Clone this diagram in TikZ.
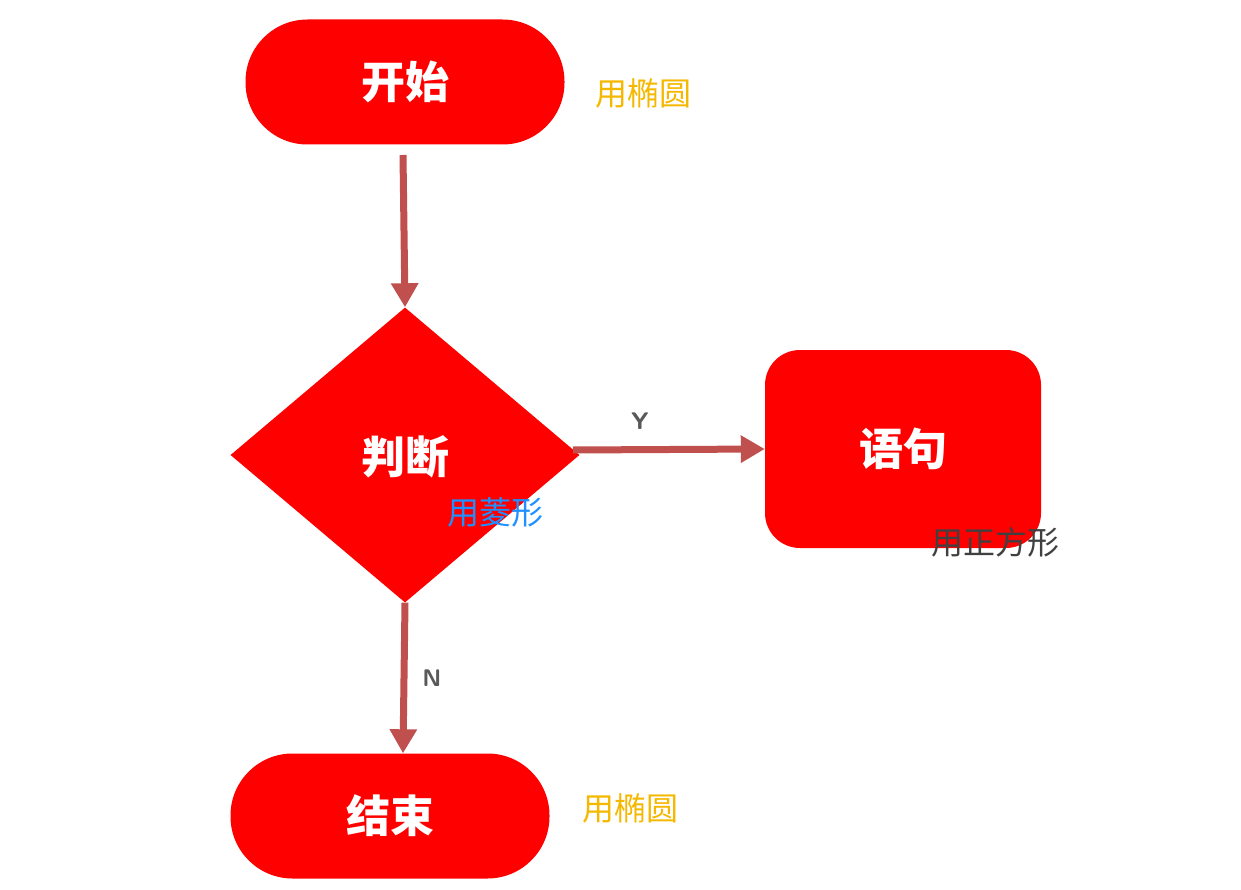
\documentclass[tikz,border=0pt]{standalone}
\usepackage{fontspec}
\setmainfont{Noto Sans CJK SC}
\newfontfamily\cjkb{Noto Sans CJK SC Bold}
\usetikzlibrary{shapes.geometric,arrows.meta}
\definecolor{shape}{HTML}{FF0000}
\definecolor{arr}{HTML}{C0504D}
\definecolor{yel}{HTML}{F5B800}
\definecolor{blu}{HTML}{1E90FF}
\tikzset{
  pill/.style={fill=shape,rounded corners=62pt,minimum width=319pt,minimum height=125pt,inner sep=0,text=white,font=\fontsize{44}{44}\selectfont\bfseries},
  dia/.style={diamond,fill=shape,minimum width=349pt,minimum height=295pt,inner sep=0,text=white,font=\fontsize{44}{44}\selectfont\bfseries},
  boxs/.style={fill=shape,rounded corners=35pt,minimum width=276pt,minimum height=198pt,inner sep=0,text=white,font=\fontsize{44}{44}\selectfont\bfseries},
  note/.style={font=\fontsize{32}{32}\selectfont,inner sep=0},
  conn/.style={draw=arr,line width=7pt,-{Triangle[length=24pt,width=26pt]}},
  yn/.style={text=black!65,font=\sffamily\bfseries\fontsize{24}{24}\selectfont,inner sep=0}
}
\begin{document}
\begin{tikzpicture}[x=1pt,y=-1pt]
\useasboundingbox (0,0) rectangle (1241,890);
\node[pill] (start) at (405,82) {开始};
\node[note,text=yel] (n1) at (643,93) {用椭圆};
\node[dia] (judge) at (405,455) {};
\node[text=white,font=\fontsize{44}{44}\selectfont\bfseries] (jt) at (405,457) {判断};
\node[note,text=blu] (n2) at (495,512) {用菱形};
\node[boxs] (stmt) at (903,449) {语句};
\node[note,text=black!75] (n3) at (995,542) {用正方形};
\node[pill] (end) at (390,816) {结束};
\node[note,text=yel] (n4) at (630,808) {用椭圆};
\coordinate (a1) at (403,155);
\draw[conn] (a1) -- (judge.north);
\coordinate (a2) at (573,450);
\draw[conn] (a2) -- (stmt.west);
\node[yn] (y) at (640,421) {Y};
\draw[conn] (judge.south) -- (end.north -| 403,0);
\node[yn] (nn) at (432,678) {N};
\end{tikzpicture}
\end{document}
